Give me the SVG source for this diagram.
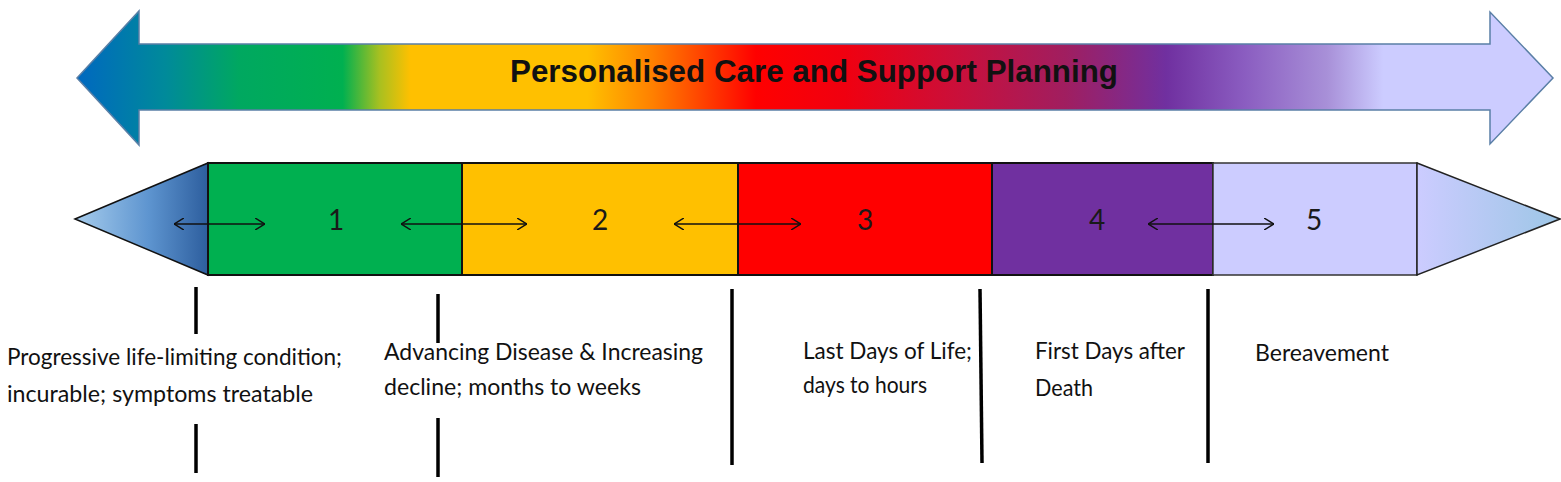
<svg xmlns="http://www.w3.org/2000/svg" width="1561" height="482" viewBox="0 0 1561 482">
<defs>
<linearGradient id="topGrad" gradientUnits="userSpaceOnUse" x1="77" y1="0" x2="1553" y2="0">
<stop offset="0" stop-color="#0068C0"/>
<stop offset="0.06" stop-color="#008A9A"/>
<stop offset="0.11" stop-color="#00A860"/>
<stop offset="0.18" stop-color="#00B050"/>
<stop offset="0.205" stop-color="#A8C020"/>
<stop offset="0.226" stop-color="#FFC000"/>
<stop offset="0.346" stop-color="#FFC000"/>
<stop offset="0.39" stop-color="#FF8000"/>
<stop offset="0.46" stop-color="#FF0000"/>
<stop offset="0.52" stop-color="#F00010"/>
<stop offset="0.60" stop-color="#C8103C"/>
<stop offset="0.67" stop-color="#A01E60"/>
<stop offset="0.738" stop-color="#7030A0"/>
<stop offset="0.79" stop-color="#8A5CC0"/>
<stop offset="0.847" stop-color="#A890D8"/>
<stop offset="0.885" stop-color="#CCCCFF"/>
<stop offset="1" stop-color="#CCCCFF"/>
</linearGradient>
<linearGradient id="leftTri" x1="0" y1="0" x2="1" y2="0">
<stop offset="0" stop-color="#A6CCEC"/>
<stop offset="0.55" stop-color="#5E95D0"/>
<stop offset="1" stop-color="#2D5E9E"/>
</linearGradient>
<linearGradient id="rightTri" x1="0" y1="0" x2="1" y2="0">
<stop offset="0" stop-color="#CCCCFF"/>
<stop offset="1" stop-color="#9DC6E6"/>
</linearGradient>
<marker id="head" viewBox="0 0 10 12" refX="10" refY="6" markerWidth="10" markerHeight="12" markerUnits="userSpaceOnUse" orient="auto-start-reverse">
<path d="M0,0 L10,6 L0,12" fill="none" stroke="#111" stroke-width="1.5"/>
</marker>
</defs>
<style>
.seg{stroke:#111;stroke-width:2}
.num{font-family:Lato,"Open Sans",sans-serif;font-size:28px;fill:#1a1a1a;text-anchor:middle}
.lbl{font-family:Lato,"Open Sans",sans-serif;font-size:24px;fill:#111}
.tick{stroke:#000;stroke-width:3.5}
.dbl{stroke:#111;stroke-width:1.5;marker-start:url(#head);marker-end:url(#head)}
</style>
<rect width="1561" height="482" fill="#fff"/>

<g id="banner">
<path d="M77,78 L139,11 L139,44 L1490,44 L1490,12 L1553,78 L1490,144 L1490,110 L139,110 L139,145 Z" fill="url(#topGrad)" stroke="#5A7FA6" stroke-width="1.5"/>
<text x="510" y="82" font-family="'Liberation Sans',Arial,sans-serif" font-weight="bold" font-size="32" textLength="608" lengthAdjust="spacingAndGlyphs" fill="#111">Personalised Care and Support Planning</text>
</g>

<g id="left-tip"><polygon points="75,219 208,163 208,275" fill="url(#leftTri)" stroke="#111" stroke-width="1.5"/></g>
<g id="stage1"><rect class="seg" x="208" y="163" width="254" height="112" fill="#00B050"/><text class="num" x="336" y="230">1</text></g>
<g id="stage2"><rect class="seg" x="462" y="163" width="276" height="112" fill="#FFC000"/><text class="num" x="600" y="230">2</text></g>
<g id="stage3"><rect class="seg" x="738" y="163" width="254" height="112" fill="#FF0000"/><text class="num" x="865" y="230" fill="#3a0000">3</text></g>
<g id="stage4"><rect class="seg" x="992" y="163" width="221" height="112" fill="#7030A0"/><text class="num" x="1097" y="230">4</text></g>
<g id="stage5"><rect x="1213" y="163" width="204" height="112" fill="#CCCCFF" stroke="#333" stroke-width="1.5"/><text class="num" x="1314" y="230">5</text></g>
<g id="right-tip"><polygon points="1417,163 1560,219 1417,275" fill="url(#rightTri)" stroke="#222" stroke-width="1.5"/></g>

<g id="connectors">
<line class="dbl" x1="174" y1="224" x2="265" y2="224"/>
<line class="dbl" x1="401" y1="224" x2="527" y2="224"/>
<line class="dbl" x1="674" y1="224" x2="801" y2="224"/>
<line class="dbl" x1="1148" y1="224" x2="1274" y2="224"/>
</g>

<g id="ticks">
<line class="tick" x1="196" y1="287" x2="196" y2="334"/>
<line class="tick" x1="196" y1="424" x2="196" y2="473"/>
<line class="tick" x1="438" y1="294" x2="438" y2="343"/>
<line class="tick" x1="438" y1="418" x2="438" y2="477"/>
<line class="tick" x1="732" y1="289" x2="732" y2="465"/>
<line class="tick" x1="980" y1="289" x2="982" y2="463"/>
<line class="tick" x1="1208" y1="289" x2="1208" y2="463"/>
</g>

<g id="label1">
<text class="lbl" x="7" y="365" textLength="335" lengthAdjust="spacingAndGlyphs">Progressive life-limiting condition;</text>
<text class="lbl" x="7" y="402" textLength="306" lengthAdjust="spacingAndGlyphs">incurable; symptoms treatable</text>
</g>
<g id="label2">
<text class="lbl" x="384" y="360" textLength="319" lengthAdjust="spacingAndGlyphs">Advancing Disease &amp; Increasing</text>
<text class="lbl" x="384" y="395" textLength="257" lengthAdjust="spacingAndGlyphs">decline; months to weeks</text>
</g>
<g id="label3">
<text class="lbl" x="803" y="359" textLength="169" lengthAdjust="spacingAndGlyphs">Last Days of Life;</text>
<text class="lbl" x="803" y="393" font-size="19" textLength="124" lengthAdjust="spacingAndGlyphs">days to hours</text>
</g>
<g id="label4">
<text class="lbl" x="1035" y="359" textLength="150" lengthAdjust="spacingAndGlyphs">First Days after</text>
<text class="lbl" x="1035" y="396" font-size="22" textLength="58" lengthAdjust="spacingAndGlyphs">Death</text>
</g>
<g id="label5">
<text class="lbl" x="1255" y="361" textLength="134" lengthAdjust="spacingAndGlyphs">Bereavement</text>
</g>
</svg>
